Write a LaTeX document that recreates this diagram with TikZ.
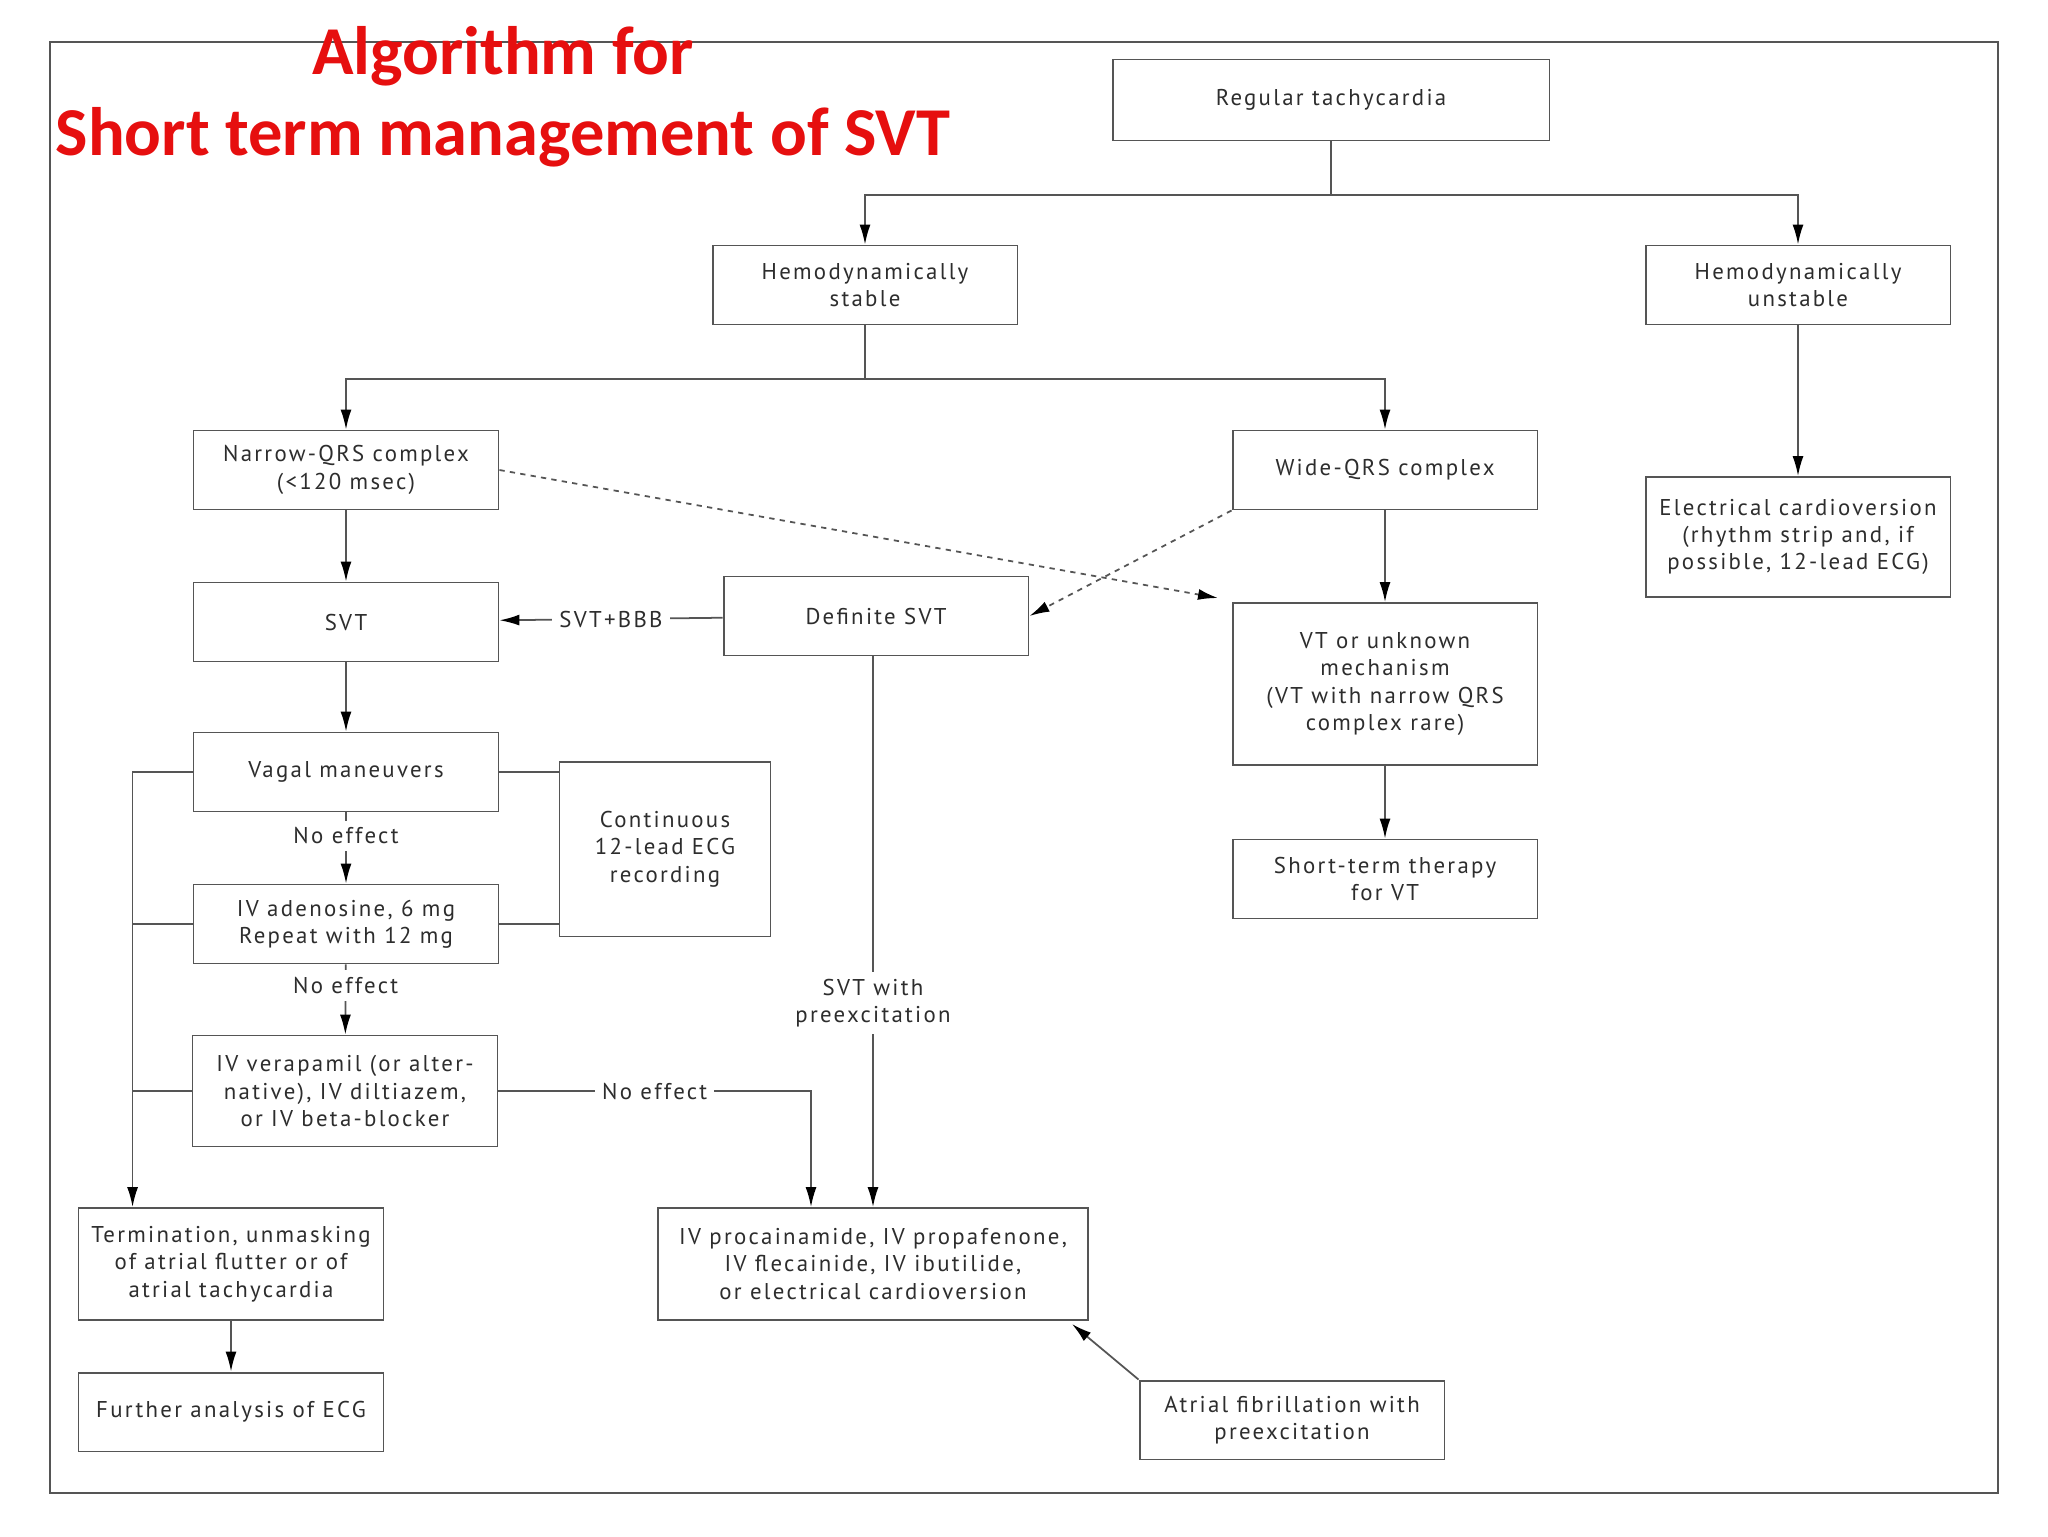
\documentclass[tikz,border=0pt]{standalone}
\usepackage{fontspec}
\setmainfont[LetterSpace=10]{PT Sans}
\newfontfamily\titlefont{Carlito}
\usetikzlibrary{arrows.meta}
\definecolor{linegray}{RGB}{85,85,85}
\definecolor{textgray}{RGB}{45,45,45}
\definecolor{titlered}{RGB}{230,15,15}
\begin{document}
\begin{tikzpicture}[x=0.02cm,y=-0.02cm,
  box/.style={draw=linegray,line width=1.1pt,fill=white,text=textgray,align=center,font=\fontsize{13}{15.6}\selectfont,minimum width=6.1cm,minimum height=1.58cm,inner sep=2pt},
  lbl/.style={fill=white,text=textgray,align=center,font=\fontsize{13}{15.6}\selectfont,inner sep=4pt},
  arr/.style={draw=linegray,line width=1pt,-{Latex[length=4mm,width=2.2mm,color=black]}},
  conn/.style={draw=linegray,line width=1pt}]
\fill[white] (0,0) rectangle (2048,1536);
\draw[linegray,line width=1.2pt] (50,42) rectangle (1998,1493);
\node[font=\titlefont\bfseries\fontsize{39}{46}\selectfont,text=titlered,align=center] (title) at (503,97) {Algorithm for\\Short term management of SVT};
\node[box,minimum width=8.74cm,minimum height=1.62cm] (reg) at (1331,100) {Regular tachycardia};
\node[box] (stable) at (865,285) {Hemodynamically\\stable};
\node[box] (unstable) at (1798,285) {Hemodynamically\\unstable};
\node[box] (narrow) at (346,470) {Narrow-QRS complex\\(<120 msec)};
\node[box] (wide) at (1385,470) {Wide-QRS complex};
\node[box,minimum height=2.4cm] (elec) at (1798,537) {Electrical cardioversion\\(rhythm strip and, if\\possible, 12-lead ECG)};
\node[box] (svt) at (346,622) {SVT};
\node[box] (definite) at (876,616) {Definite SVT};
\node[box,minimum height=3.24cm] (vt) at (1385,684) {VT or unknown\\mechanism\\(VT with narrow QRS\\complex rare)};
\node[box] (vtther) at (1385,879) {Short-term therapy\\for VT};
\node[box] (vagal) at (346,772) {Vagal maneuvers};
\node[box,minimum width=4.22cm,minimum height=3.5cm] (ecg) at (665,849) {Continuous\\12-lead ECG\\recording};
\node[box] (adeno) at (346,924) {IV adenosine, 6 mg\\Repeat with 12 mg};
\node[box,minimum height=2.22cm] (vera) at (345,1091) {IV verapamil (or alter-\\native), IV diltiazem,\\or IV beta-blocker};
\node[box,minimum height=2.24cm] (term) at (231,1264) {Termination, unmasking\\of atrial flutter or of\\atrial tachycardia};
\node[box] (further) at (231,1412) {Further analysis of ECG};
\node[box,minimum width=8.6cm,minimum height=2.24cm] (proc) at (873,1264) {IV procainamide, IV propafenone,\\IV flecainide, IV ibutilide,\\or electrical cardioversion};
\node[box] (afib) at (1292,1420) {Atrial fibrillation with\\preexcitation};
\coordinate (split1) at (1331,195);
\coordinate (split2) at (865,379);
\coordinate (vtin) at (1218,598);
\draw[conn] (reg) -- (split1);
\draw[arr] (split1) -| (stable);
\draw[arr] (split1) -| (unstable);
\draw[conn] (stable) -- (split2);
\draw[arr] (split2) -| (narrow);
\draw[arr] (split2) -| (wide);
\draw[arr] (unstable) -- (elec);
\draw[arr] (narrow) -- (svt);
\draw[arr] (wide) -- (vt);
\draw[arr] (vt) -- (vtther);
\draw[arr,dashed] (narrow.east) -- (vtin);
\draw[arr,dashed] (wide.south west) -- (definite.east);
\draw[arr] (definite) -- node[lbl] {SVT+BBB} (svt);
\draw[arr] (svt) -- (vagal);
\draw[arr] (vagal) -- node[lbl,pos=0.33] {No effect} (adeno);
\draw[arr] (adeno) -- node[lbl,pos=0.3] {No effect} (vera);
\draw[conn] (vagal.east) -- (vagal.east -| ecg.west);
\draw[conn] (adeno.east) -- (adeno.east -| ecg.west);
\draw[arr] (vagal.west) -- ++(-1.2cm,0) coordinate (trunk) -- (trunk |- term.north);
\draw[conn] (adeno.west) -- (adeno.west -| trunk);
\draw[conn] (vera.west) -- (vera.west -| trunk);
\draw[arr] (definite.south -| proc.north) -- node[lbl,pos=0.63] {SVT with\\preexcitation} (proc);
\draw[arr] (vera.east) -| node[lbl,pos=0.25] {No effect} ([xshift=-1.24cm]proc.north);
\draw[arr] (term) -- (further);
\draw[arr] (afib.north west) -- ([xshift=-0.34cm,yshift=-0.06cm]proc.south east);
\end{tikzpicture}
\end{document}
